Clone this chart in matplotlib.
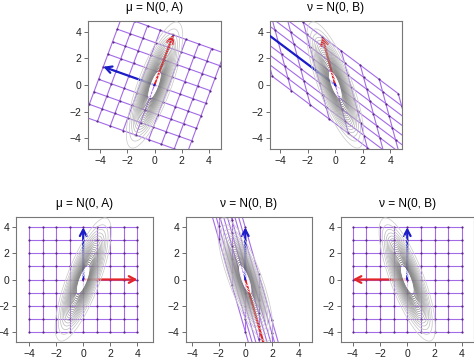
import numpy as np
import matplotlib.pyplot as plt
from matplotlib.patches import FancyArrowPatch

plt.rcParams['font.family'] = ['Liberation Sans', 'DejaVu Sans']

# mu = N(0, A): principal axis angle (deg) and eigenvalues of A
theta_deg = 70
eig_A = [4.2, 0.25]
# nu = N(0, B) is mu reflected through the y axis
flip = [-1, 1]
grid_ticks = np.arange(-4, 5)
ticks = [-4, -2, 0, 2, 4]
titles = ["μ = N(0, A)", "ν = N(0, B)", "μ = N(0, A)", "ν = N(0, B)", "ν = N(0, B)"]
# axes boxes in pixels (left, top, right, bottom) and x limits
boxes = [(88, 21, 221, 149), (270, 21, 402, 149),
         (16, 217, 153, 342), (186, 217, 311.5, 342), (341, 217, 473.5, 342)]
xlims = [(-4.88, 4.88), (-4.75, 4.85), (-4.96, 5.15), (-4.45, 4.97), (-4.86, 4.86)]
ylim = (-4.8, 4.8)

t = np.deg2rad(theta_deg)
R = np.array([[np.cos(t), -np.sin(t)], [np.sin(t), np.cos(t)]])
A = R @ np.diag(eig_A) @ R.T
D = np.diag(flip).astype(float)
B = D @ A @ D


def msqrt(M):
    w, V = np.linalg.eigh(M)
    return V @ np.diag(np.sqrt(w)) @ V.T


Ah = msqrt(A)
Aih = np.linalg.inv(Ah)
T_monge = Aih @ msqrt(Ah @ B @ Ah) @ Aih
T_kr = np.linalg.cholesky(B) @ np.linalg.inv(np.linalg.cholesky(A))

maps = [R, T_monge @ R, np.eye(2), T_kr, D]
covs = [A, B, A, B, B]

W, H = 474, 358
fig = plt.figure(figsize=(W / 100, H / 100), dpi=100)

xs = np.linspace(-5.5, 5.5, 400)
X, Y = np.meshgrid(xs, xs)
rel = np.linspace(0.05, 0.97, 22)
ccols = []
for i in range(len(rel)):
    f = i / (len(rel) - 1)
    ccols.append(str(round(0.8 - 0.35 * f / 0.88, 3)) if f < 0.88 else 'white')

for k in range(5):
    l, tp, r, b = boxes[k]
    ax = fig.add_axes([l / W, 1 - b / H, (r - l) / W, (b - tp) / H])
    M = maps[k]
    C = covs[k]
    lc = '#a46be8'
    for g in grid_ticks:
        p = M @ np.array([[g, g], [-4, 4]])
        ax.plot(p[0], p[1], color=lc, lw=0.8, zorder=1)
        p = M @ np.array([[-4, 4], [g, g]])
        ax.plot(p[0], p[1], color=lc, lw=0.8, zorder=1)
    gx, gy = np.meshgrid(grid_ticks, grid_ticks)
    pts = M @ np.vstack([gx.ravel(), gy.ravel()])
    ax.scatter(pts[0], pts[1], s=2.5, color='#5b2a86', lw=0, zorder=2)

    for vec, col in [((4, 0), '#e3242b'), ((0, 4), '#1c1cc8')]:
        end = M @ np.array(vec)
        arr = FancyArrowPatch((0, 0), tuple(end), arrowstyle='->,head_length=4.5,head_width=2.4',
                              color=col, lw=1.6, shrinkA=0, shrinkB=0, zorder=3)
        ax.add_patch(arr)

    Ci = np.linalg.inv(C)
    Z = np.exp(-0.5 * (Ci[0, 0] * X**2 + 2 * Ci[0, 1] * X * Y + Ci[1, 1] * Y**2))
    ax.contour(X, Y, Z, levels=rel, colors=ccols, linewidths=0.55, zorder=4)

    ax.set_xlim(*xlims[k])
    ax.set_ylim(*ylim)
    ax.set_xticks(ticks)
    ax.set_yticks(ticks)
    ax.set_yticklabels([str(v).replace('-', '\u2212') for v in ticks])
    ax.set_xticklabels([str(v).replace('-', '\u2212') for v in ticks])
    ax.tick_params(direction='out', length=2.8, width=0.6, color='#555555',
                   labelsize=7.5, labelcolor='#222222', pad=2)
    for s in ax.spines.values():
        s.set_color('#777777')
        s.set_linewidth(0.8)
    ax.set_title(titles[k], fontsize=8.6, pad=7)

fig.savefig('out.png', dpi=100)
